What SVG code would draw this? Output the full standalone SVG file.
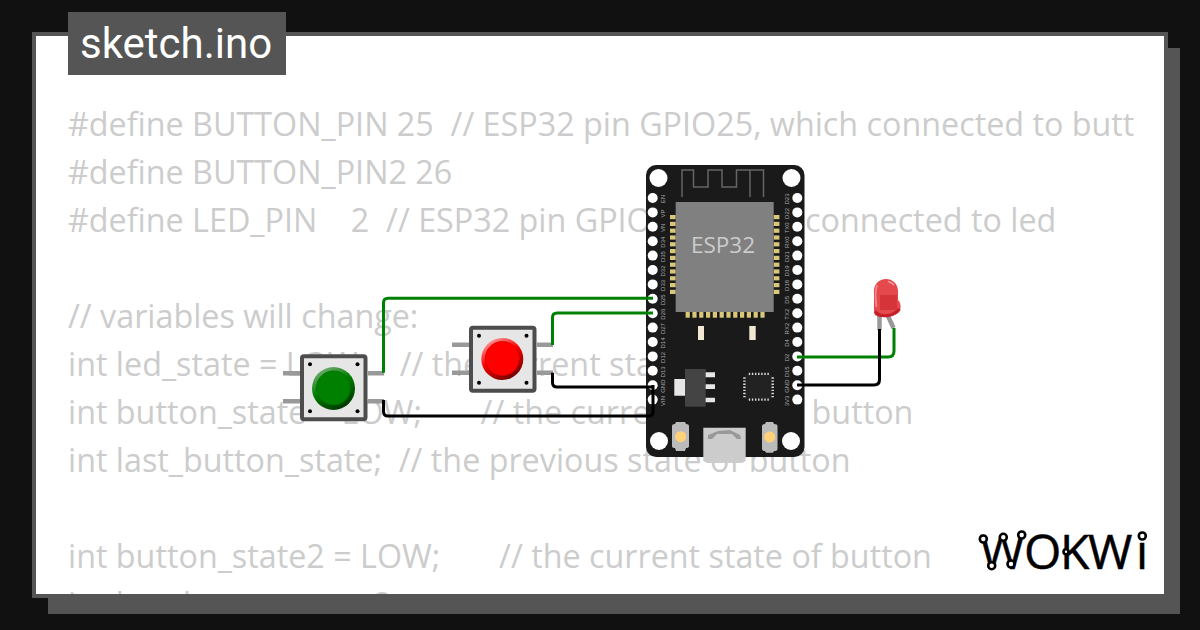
<svg xmlns="http://www.w3.org/2000/svg" width="1200" height="630" viewBox="0 0 1200 630">
<style>
.code{font-family:"Open Sans","Noto Sans",sans-serif;font-size:32.3px;fill:#ccc;white-space:pre}
.pin{font-family:"Liberation Sans",Arial,sans-serif;font-size:6px;fill:#aaa;text-anchor:middle}
.hole{fill:#fff}
.pad{fill:#d9c77a}
.wg{fill:none;stroke:#008000;stroke-width:3}
.wk{fill:none;stroke:#000;stroke-width:3}
.lead{fill:none;stroke:#999;stroke-width:4.5}
.node{fill:#fff;stroke:#000;stroke-width:2.6}
</style>
<defs>
<clipPath id="panelClip"><rect x="36" y="36" width="1128" height="558"/></clipPath>
<linearGradient id="capG" x1="0.2" y1="0.1" x2="0.7" y2="1"><stop offset="0" stop-color="#6aa86a"/><stop offset="0.4" stop-color="#008000"/><stop offset="1" stop-color="#003500"/></linearGradient>
<linearGradient id="capR" x1="0.2" y1="0.1" x2="0.7" y2="1"><stop offset="0" stop-color="#ff8a8a"/><stop offset="0.4" stop-color="#f00"/><stop offset="1" stop-color="#6a0000"/></linearGradient>
<g id="btnBody">
<path class="lead" d="M-51 -14.500H-34M-51 13.500H-34M34 -14.500H50M34 13.500H50"/>
<rect x="-32" y="-31.500" width="63.500" height="63" rx="2" fill="#e6e6e6" stroke="#4d4d4d" stroke-width="4"/>
<circle cx="-24" cy="-23.500" r="2"/><circle cx="23.500" cy="-23.500" r="2"/><circle cx="-24" cy="23.500" r="2"/><circle cx="23.500" cy="23.500" r="2"/>
</g>
</defs>
<rect width="1200" height="630" fill="#111"/>
<rect x="48" y="48" width="1132" height="566" fill="#555"/>
<rect x="34" y="34" width="1132" height="562" fill="#fff" stroke="#555" stroke-width="4"/>
<g clip-path="url(#panelClip)">
<text class="code" x="68" y="136">#define BUTTON_PIN 25  // ESP32 pin GPIO25, which connected to butt</text>
<text class="code" x="68" y="184">#define BUTTON_PIN2 26</text>
<text class="code" x="68" y="232">#define LED_PIN    2  // ESP32 pin GPIO2, which <tspan x="805">connected to led</tspan></text>
<text class="code" x="68" y="328">// variables will change:</text>
<text class="code" x="68" y="376">int led_state = LOW;    // the current state of LED</text>
<text class="code" x="68" y="424">int button_state = LOW;       // the current state of button</text>
<text class="code" x="68" y="472">int last_button_state;  // the previous state of button</text>
<text class="code" x="68" y="568">int button_state2 = LOW;       // the current state of button</text>
<text class="code" x="68" y="616">int last_button_state2;</text>
</g>
<g id="tab"><rect x="68" y="12" width="218" height="63" fill="#555"/>
<text x="80" y="58" font-family="Roboto,sans-serif" font-size="42" fill="#fff">sketch.ino</text></g>
<g id="esp32">
<rect x="646" y="165" width="158.500" height="292" rx="10" fill="#1a1a1a"/>
<path d="M682 197V170H693.500V187H708V170H722V187H736.500V170H763.500V197M750 170V197" fill="none" stroke="#666" stroke-width="1.500"/>
<g class="hole">
<circle cx="658.500" cy="178" r="9"/><circle cx="791.500" cy="178" r="9"/><circle cx="659" cy="441" r="9"/><circle cx="791" cy="441" r="9"/>
<circle cx="652.700" cy="198" r="5"/><circle cx="652.700" cy="212.400" r="5"/><circle cx="652.700" cy="226.800" r="5"/><circle cx="652.700" cy="241.200" r="5"/><circle cx="652.700" cy="255.600" r="5"/><circle cx="652.700" cy="270" r="5"/><circle cx="652.700" cy="284.400" r="5"/><circle cx="652.700" cy="298.800" r="5"/><circle cx="652.700" cy="313.200" r="5"/><circle cx="652.700" cy="327.600" r="5"/><circle cx="652.700" cy="342" r="5"/><circle cx="652.700" cy="356.400" r="5"/><circle cx="652.700" cy="370.800" r="5"/><circle cx="652.700" cy="385.200" r="5"/><circle cx="652.700" cy="399.600" r="5"/>
<circle cx="797.300" cy="198" r="5"/><circle cx="797.300" cy="212.400" r="5"/><circle cx="797.300" cy="226.800" r="5"/><circle cx="797.300" cy="241.200" r="5"/><circle cx="797.300" cy="255.600" r="5"/><circle cx="797.300" cy="270" r="5"/><circle cx="797.300" cy="284.400" r="5"/><circle cx="797.300" cy="298.800" r="5"/><circle cx="797.300" cy="313.200" r="5"/><circle cx="797.300" cy="327.600" r="5"/><circle cx="797.300" cy="342" r="5"/><circle cx="797.300" cy="356.400" r="5"/><circle cx="797.300" cy="370.800" r="5"/><circle cx="797.300" cy="385.200" r="5"/><circle cx="797.300" cy="399.600" r="5"/>
</g>
<g class="pad">
<rect x="670" y="215" width="5.700" height="4.200"/><rect x="670" y="221.800" width="5.700" height="4.200"/><rect x="670" y="228.600" width="5.700" height="4.200"/><rect x="670" y="235.400" width="5.700" height="4.200"/><rect x="670" y="242.200" width="5.700" height="4.200"/><rect x="670" y="249" width="5.700" height="4.200"/><rect x="670" y="255.800" width="5.700" height="4.200"/><rect x="670" y="262.600" width="5.700" height="4.200"/><rect x="670" y="269.400" width="5.700" height="4.200"/><rect x="670" y="276.200" width="5.700" height="4.200"/><rect x="670" y="283" width="5.700" height="4.200"/><rect x="670" y="289.800" width="5.700" height="4.200"/>
<rect x="773.700" y="215" width="5.700" height="4.200"/><rect x="773.700" y="221.800" width="5.700" height="4.200"/><rect x="773.700" y="228.600" width="5.700" height="4.200"/><rect x="773.700" y="235.400" width="5.700" height="4.200"/><rect x="773.700" y="242.200" width="5.700" height="4.200"/><rect x="773.700" y="249" width="5.700" height="4.200"/><rect x="773.700" y="255.800" width="5.700" height="4.200"/><rect x="773.700" y="262.600" width="5.700" height="4.200"/><rect x="773.700" y="269.400" width="5.700" height="4.200"/><rect x="773.700" y="276.200" width="5.700" height="4.200"/><rect x="773.700" y="283" width="5.700" height="4.200"/><rect x="773.700" y="289.800" width="5.700" height="4.200"/>
<rect x="685.600" y="311.700" width="4.200" height="6"/><rect x="692.400" y="311.700" width="4.200" height="6"/><rect x="699.200" y="311.700" width="4.200" height="6"/><rect x="706" y="311.700" width="4.200" height="6"/><rect x="712.800" y="311.700" width="4.200" height="6"/><rect x="719.600" y="311.700" width="4.200" height="6"/><rect x="726.400" y="311.700" width="4.200" height="6"/><rect x="733.200" y="311.700" width="4.200" height="6"/><rect x="740" y="311.700" width="4.200" height="6"/><rect x="746.800" y="311.700" width="4.200" height="6"/><rect x="753.600" y="311.700" width="4.200" height="6"/><rect x="760.400" y="311.700" width="4.200" height="6"/>
</g>
<rect x="675.700" y="202" width="98" height="110" fill="#808080"/>
<text x="723" y="253" text-anchor="middle" font-family="'Open Sans',sans-serif" font-size="22.500" fill="#ccc">ESP32</text>
<g class="pin">
<text transform="translate(665 199) rotate(-90)">EN</text><text transform="translate(665 213.400) rotate(-90)">VP</text><text transform="translate(665 227.800) rotate(-90)">VN</text><text transform="translate(665 242.200) rotate(-90)">D34</text><text transform="translate(665 256.600) rotate(-90)">D35</text><text transform="translate(665 271) rotate(-90)">D32</text><text transform="translate(665 285.400) rotate(-90)">D33</text><text transform="translate(665 299.800) rotate(-90)">D25</text><text transform="translate(665 314.200) rotate(-90)">D26</text><text transform="translate(665 328.600) rotate(-90)">D27</text><text transform="translate(665 343) rotate(-90)">D14</text><text transform="translate(665 357.400) rotate(-90)">D12</text><text transform="translate(665 371.800) rotate(-90)">D13</text><text transform="translate(665 386.200) rotate(-90)">GND</text><text transform="translate(665 401) rotate(-90)">VIN</text>
<text transform="translate(789 199) rotate(-90)">D23</text><text transform="translate(789 213.400) rotate(-90)">D22</text><text transform="translate(789 227.800) rotate(-90)">TX0</text><text transform="translate(789 242.200) rotate(-90)">RX0</text><text transform="translate(789 256.600) rotate(-90)">D21</text><text transform="translate(789 271) rotate(-90)">D19</text><text transform="translate(789 285.400) rotate(-90)">D18</text><text transform="translate(789 299.800) rotate(-90)">D5</text><text transform="translate(789 314.200) rotate(-90)">TX2</text><text transform="translate(789 328.600) rotate(-90)">RX2</text><text transform="translate(789 343) rotate(-90)">D4</text><text transform="translate(789 357.400) rotate(-90)">D2</text><text transform="translate(789 371.800) rotate(-90)">D15</text><text transform="translate(789 386.200) rotate(-90)">GND</text><text transform="translate(789 401) rotate(-90)">3V3</text>
</g>
<rect x="698" y="326" width="6" height="14" fill="#f1e8d4"/><rect x="749.300" y="326" width="6.400" height="14" fill="#f1e8d4"/>
<path d="M705 372.300H715V377.300H705ZM705 384.300H715V389H705ZM705 397.700H715V402.300H705ZM674.300 379H685V395.700H674.300Z" fill="#e6e6e6"/>
<rect x="685" y="369" width="20.700" height="37.700" fill="#444"/>
<rect x="745" y="374" width="27" height="25.500" rx="1.500" fill="#222"/>
<path d="M749.500 372.700V375M752.600 372.700V375M755.700 372.700V375M758.800 372.700V375M761.900 372.700V375M765 372.700V375M768.100 372.700V375M749.500 398.500V400.800M752.600 398.500V400.800M755.700 398.500V400.800M758.800 398.500V400.800M761.900 398.500V400.800M765 398.500V400.800M768.100 398.500V400.800M743.200 378H745.600M743.200 381.100H745.600M743.200 384.200H745.600M743.200 387.300H745.600M743.200 390.400H745.600M743.200 393.500H745.600M743.200 396.600H745.600M771.500 378H773.900M771.500 381.100H773.900M771.500 384.200H773.900M771.500 387.300H773.900M771.500 390.400H773.900M771.500 393.500H773.900M771.500 396.600H773.900" stroke="#ddd" stroke-width="1.400" fill="none"/>
<path d="M703.300 427.700H745.700V461L742 463H707L703.300 461Z" fill="#ccc"/>
<path d="M708 435L718 431L730 430L740 435L741 439L737 439L732 434H717L712 439H708Z" fill="#999"/>
<path d="M672 426Q672 424 675 424L676 422H685L686 424Q689 424 689 426V446Q689 448 686 448L685 451H676L675 448Q672 448 672 446Z" fill="#bbb"/><circle cx="680.700" cy="436.700" r="5.500" fill="#ffd27a"/>
<path d="M762 426Q762 424 765 424L766 422H773L774 424Q777.500 424 777.500 426V449Q777.500 451 774 451L773 452.700H766L765 451Q762 451 762 449Z" fill="#bbb"/><circle cx="769.700" cy="437" r="5.500" fill="#ffd27a"/>
</g>
<g id="button1"><use href="#btnBody" x="334" y="387.800"/>
<circle cx="333.500" cy="388.500" r="21.500" fill="url(#capG)"/><circle cx="333.500" cy="388" r="17" fill="#008000" stroke="#006b00" stroke-width="0.800"/></g>
<g id="button2"><use href="#btnBody" x="503" y="359.300"/>
<circle cx="502.300" cy="359" r="21" fill="url(#capR)"/><circle cx="502.300" cy="358.500" r="17" fill="#f00" stroke="#d00000" stroke-width="0.800"/></g>
<g id="led">
<path class="lead" d="M879.500 316V330M888 316L893.500 328" stroke-width="3"/>
<path d="M874 312V291C874 284 879 279 886 279C893 279 898 284 898 291V300C901.500 303 901.500 311 898 313C892 318 878 318 875 315Z" fill="#e6494d"/>
<path d="M875 311.500C880 318 893 317 899.500 309" fill="none" stroke="#c4202a" stroke-width="3"/>
<path d="M877 285C875.500 290 875.500 300 876.500 307" fill="none" stroke="#f08a8a" stroke-width="1.800"/>
<path d="M888 281.500Q892 282.500 894 285" fill="none" stroke="#f4a0a0" stroke-width="1.500"/>
<path d="M880 295H897V310H880Z" fill="#cf2e33" opacity="0.750"/>
</g>
<g id="wires">
<path class="wg" d="M383.500 372.700V303Q383.500 298.300 388 298.300H653"/>
<path class="wk" d="M383.500 400V411.500Q383.500 416 388 416H649Q653 416 653 412V385"/>
<path class="wg" d="M552.500 345V317.500Q552.500 313 557 313H653"/>
<path class="wk" d="M552.500 372.700V382.500Q552.500 387 557 387H653"/>
<path class="wg" d="M797 357H888Q894 357 894 351V328"/>
<path class="wk" d="M797 385H874Q879.500 385 879.500 379.500V329"/>
</g>
<g id="wokwi">
<text y="569" font-family="'Open Sans',sans-serif" font-size="48" fill="#000" stroke="#000" stroke-width="0.500"><tspan x="980">W</tspan><tspan x="1024">O</tspan><tspan x="1060">K</tspan><tspan x="1088">W</tspan><tspan x="1136">i</tspan></text>
<circle class="node" cx="983.300" cy="539" r="3.500"/><circle class="node" cx="1003.300" cy="537.300" r="3.500"/><circle class="node" cx="1021.700" cy="535" r="3.500"/><circle class="node" cx="991.700" cy="565.700" r="3.500"/><circle class="node" cx="1011" cy="564" r="3.500"/><circle class="node" cx="1066" cy="551.700" r="2.500"/><circle class="node" cx="1142.300" cy="536" r="3.500"/>
</g>
</svg>
